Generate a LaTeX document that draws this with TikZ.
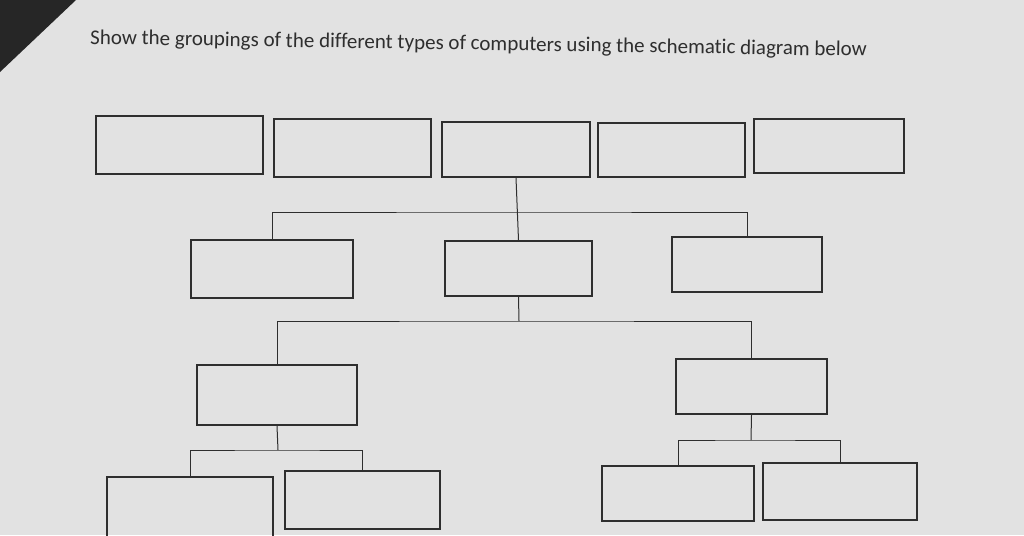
\documentclass[tikz,border=0pt]{standalone}
\usepackage{fontspec}
\setmainfont[Ligatures={NoCommon}]{Carlito}
\usepackage{tikz}
\usetikzlibrary{positioning}
\definecolor{paper}{HTML}{E2E2E2}
\definecolor{ink}{HTML}{2E2E2E}

\begin{document}
\begin{tikzpicture}
    [
    x=1pt,y=-1pt,
    box/.style 2 args={draw=ink,line width=1.9pt,inner sep=0pt,minimum width=#1,minimum height=#2},
    link/.style={draw=ink,line width=1pt},
    ]
    \clip (0,0) rectangle (1024,535);
    \fill [paper] (0,0) rectangle (1024,535);
    \fill [black!85] (0,0) -- (76,0) -- (0,72) -- cycle;

    \node (title) [anchor=base west,rotate=-0.9,text=ink,inner sep=0pt,font=\fontsize{21}{25}\selectfont] at (90,44)
      {Show the groupings of the different types of computers using the schematic diagram below};

    \node (t1) at (179.5,145) [box={167pt}{58pt}] {};
    \node (t2) at (352.5,148) [box={157pt}{58pt}] {};
    \node (t3) at (516,149.5) [box={148pt}{55pt}] {};
    \node (t4) at (671.5,150) [box={147pt}{54pt}] {};
    \node (t5) at (829,146) [box={150pt}{54pt}] {};

    \node (m1) at (272,269) [box={162pt}{58pt}] {};
    \node (m2) at (518.5,268.5) [box={147pt}{55pt}] {};
    \node (m3) at (747,264.5) [box={150pt}{55pt}] {};

    \node (l1) at (277,395) [box={160pt}{60pt}] {};
    \node (l2) at (190,508.5) [box={166pt}{63pt}] {};
    \node (l3) at (362.5,500) [box={155pt}{58pt}] {};

    \node (r1) at (751.5,386.5) [box={151pt}{55pt}] {};
    \node (r2) at (678,493.5) [box={152pt}{55pt}] {};
    \node (r3) at (840,491.5) [box={154pt}{57pt}] {};

    \coordinate (j1) at (518,212);
    \coordinate (j2) at (519,321);
    \coordinate (j3) at (278,450);
    \coordinate (j4) at (751,440);
    \draw [link] (t3.south) -- (m2.north);
    \draw [link] (m1.north) |- (j1) -| (m3.north);
    \draw [link] (m2.south) -- (j2);
    \draw [link] (l1.north) |- (j2) -| (r1.north);
    \draw [link] (l1.south) -- (j3);
    \draw [link] (l2.north) |- (j3) -| (l3.north);
    \draw [link] (r1.south) -- (j4);
    \draw [link] (r2.north) |- (j4) -| (r3.north);
  \end{tikzpicture}
\end{document}
